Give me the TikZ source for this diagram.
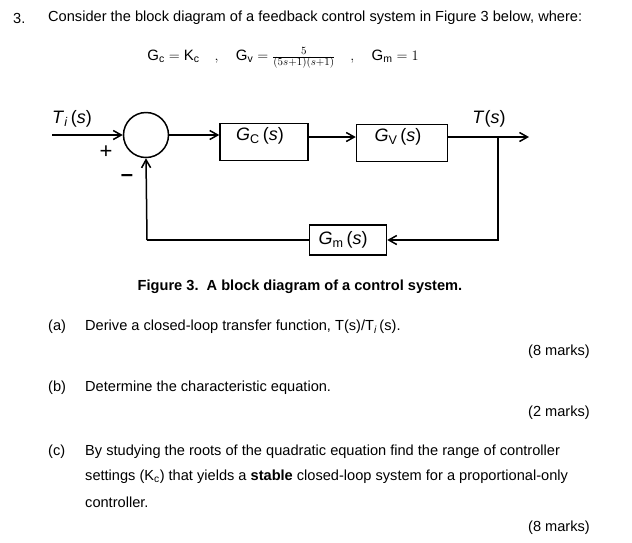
\documentclass[tikz,border=0pt]{standalone}
\usepackage{fontspec}
\setmainfont{Liberation Sans}
\usetikzlibrary{arrows.meta}
\begin{document}
\begin{tikzpicture}[x=1pt,y=-1pt,
  txt/.style={anchor=west,font=\fontsize{14.6}{17}\selectfont,inner sep=0},
  lab/.style={font=\fontsize{18}{20}\selectfont,inner sep=0},
  blk/.style={draw,line width=1.5pt,minimum width=88pt,minimum height=37pt},
  ln/.style={line width=1.5pt},
  arr/.style={line width=1.5pt,-{Straight Barb[length=8pt,width=9pt]}}]
\useasboundingbox (0,0) rectangle (632,542);
\node[txt] (n3) at (13,18) {3.};
\node[txt] (q) at (48,18) {Consider the block diagram of a feedback control system in Figure 3 below, where:};
\node[inner sep=0,font=\fontsize{15}{17}\selectfont] (eq) at (283,58) {$\mathrm{G_c}=\mathrm{K_c}\quad,\quad \mathrm{G_v}=\frac{5}{(5s+1)(s+1)}\quad,\quad \mathrm{G_m}=1$};
% diagram
\node[draw,circle,line width=1.5pt,minimum size=45pt,inner sep=0] (sum) at (146,135) {};
\node[blk] (gc) at (264,142) {};
\node[lab] (gct) at (260,136) {\textit{G}\textsubscript{C}\,(\textit{s})};
\node[blk,minimum width=91pt] (gv) at (402,143) {};
\node[lab] (gvt) at (398,137) {\textit{G}\textsubscript{V}\,(\textit{s})};
\node[draw,line width=1.5pt,minimum width=77pt,minimum height=30pt] (gm) at (348,240) {};
\node[lab] (gmt) at (343,240) {\textit{G}\textsubscript{m}\,(\textit{s})};
\coordinate (in) at (52,135);
\coordinate (br) at (498,137);
\coordinate (out) at (529,137);
\coordinate (fbr) at (498,240);
\coordinate (fbl) at (147,240);
\draw[arr] (in) -- (sum.west);
\draw[arr] (sum.east) -- (gc.west |- sum.east);
\draw[arr] (gc.east |- 0,137) -- (gv.west |- 0,137);
\draw[arr] (gv.east |- br) -- (out);
\draw[arr] (br) -- (fbr) -- (gm.east);
\draw[ln] (gm.west) -- (fbl);
\draw[arr] (fbl) -- (sum.south);
\node[lab,anchor=south west] (ti) at (52,127) {\textit{T}\textsubscript{\textit{i}}\,(\textit{s})};
\node[font=\fontsize{22}{24}\selectfont,inner sep=0] (plus) at (106,152) {+};
\node[font=\bfseries\fontsize{22}{24}\selectfont,inner sep=0] (minus) at (127,178) {--};
\node[lab,anchor=south] (to) at (489,127) {\textit{T}(\textit{s})};
\node[font=\bfseries\fontsize{14.6}{17}\selectfont] (cap) at (300,287) {Figure 3.\ \ A block diagram of a control system.};
\node[txt] (a) at (48,327) {(a)};
\node[txt] (at) at (85,327) {Derive a closed-loop transfer function, T(s)/T\textsubscript{\textit{i}}\,(s).};
\node[txt,anchor=east] (m1) at (590,352) {(8 marks)};
\node[txt] (b) at (48,388) {(b)};
\node[txt] (bt) at (85,388) {Determine the characteristic equation.};
\node[txt,anchor=east] (m2) at (590,413) {(2 marks)};
\node[txt] (c) at (48,452) {(c)};
\node[txt] (ct) at (85,452) {By studying the roots of the quadratic equation find the range of controller};
\node[txt] (c2) at (85,477) {settings (K\textsubscript{c}) that yields a \textbf{stable} closed-loop system for a proportional-only};
\node[txt] (c3) at (85,502) {controller.};
\node[txt,anchor=east] (m3) at (590,528) {(8 marks)};
\end{tikzpicture}
\end{document}
